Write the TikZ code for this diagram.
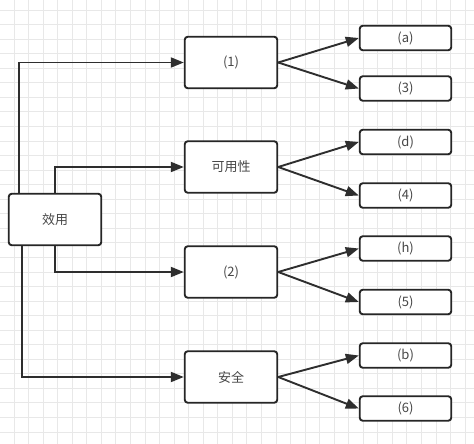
\documentclass[tikz,border=0pt]{standalone}
\usepackage{fontspec}
\setmainfont{Noto Sans CJK SC}
\usetikzlibrary{arrows.meta}
\tikzset{
  gridline/.style={draw=black!9, line width=0.8pt},
  box/.style={draw=black!85, line width=1.9pt, rounded corners=3pt, fill=white,
    text=black!72, font=\fontsize{13}{15}\selectfont, inner sep=0pt},
  midbox/.style={box, minimum width=92.5pt, minimum height=51.5pt},
  leafbox/.style={box, minimum width=91.5pt, minimum height=24.5pt},
  conn/.style={line width=1.9pt, draw=black!82, -{Triangle[length=13pt,width=10pt]}}
}
\begin{document}
\begin{tikzpicture}[x=1pt,y=-1pt]
\fill[white] (0,0) rectangle (474,444);
\useasboundingbox (0,0) rectangle (474,444);
\foreach \k in {0,...,31} { \draw[gridline] ({14+14.55*\k},0) -- ({14+14.55*\k},444); }
\foreach \k in {0,...,30} { \draw[gridline] (0,{10+14.55*\k}) -- (474,{10+14.55*\k}); }

\node[midbox] (u) at (55,219.5) {效用};
\node[midbox] (n1) at (231,62.5) {(1)};
\node[midbox] (n2) at (231,167) {可用性};
\node[midbox] (n3) at (231,272) {(2)};
\node[midbox] (n4) at (231,377) {安全};

\node[leafbox] (la) at (405.5,38) {(a)};
\node[leafbox] (l3) at (405.5,88.5) {(3)};
\node[leafbox] (ld) at (405.5,142) {(d)};
\node[leafbox] (l4) at (405.5,195.5) {(4)};
\node[leafbox] (lh) at (405.5,248.5) {(h)};
\node[leafbox] (l5) at (405.5,302) {(5)};
\node[leafbox] (lb) at (405.5,355.5) {(b)};
\node[leafbox] (l6) at (405.5,408.5) {(6)};

\draw[conn] ([xshift=11pt]u.north west) |- (n1.west);
\draw[conn] (u.north) |- (n2.west);
\draw[conn] (u.south) |- (n3.west);
\draw[conn] ([xshift=14pt]u.south west) |- (n4.west);

\draw[conn] (n1.east) -- (la.west);
\draw[conn] (n1.east) -- (l3.west);
\draw[conn] (n2.east) -- (ld.west);
\draw[conn] (n2.east) -- (l4.west);
\draw[conn] (n3.east) -- (lh.west);
\draw[conn] (n3.east) -- (l5.west);
\draw[conn] (n4.east) -- (lb.west);
\draw[conn] (n4.east) -- (l6.west);
\end{tikzpicture}
\end{document}
